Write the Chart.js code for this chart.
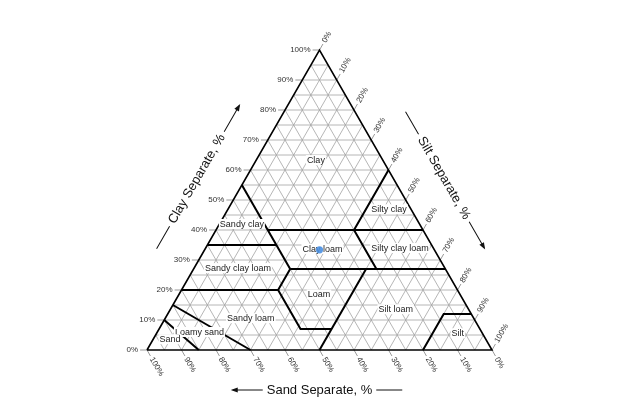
<!DOCTYPE html>
<html>
<head>
<meta charset="utf-8">
<script src="https://cdn.jsdelivr.net/npm/chart.js@4.4.0/dist/chart.umd.min.js"></script>
<style>
  html, body { margin: 0; padding: 0; background: #fff; }
  #wrap { width: 640px; height: 400px; position: relative; }
</style>
</head>
<body>
<div id="wrap"><canvas id="soil"></canvas></div>
<script>
// tick labels on each side, and spacing of the light grid (percent)
var tickValues = [0, 10, 20, 30, 40, 50, 60, 70, 80, 90, 100];
var gridValues = [5, 10, 15, 20, 25, 30, 35, 40, 45, 50, 55, 60, 65, 70, 75, 80, 85, 90, 95];

// USDA texture class boundaries, each polyline as [clay, silt] pairs (sand = rest)
var boundaries = [
  [[55, 0], [27, 28]],            // sand 45 %
  [[40, 15], [40, 60]],           // clay 40 %
  [[60, 40], [40, 40], [27, 53]], // silt 40 % / sand 20 %
  [[35, 0], [35, 20]],            // clay 35 %
  [[27, 28], [27, 73]],           // clay 27 %
  [[27, 28], [20, 28], [20, 0]],  // silt 28 % / clay 20 %
  [[20, 28], [7, 41], [7, 50]],   // sand 52 % / clay 7 %
  [[27, 50], [0, 50]],            // silt 50 %
  [[15, 0], [0, 30]],             // loamy sand
  [[10, 0], [0, 15]],             // sand
  [[0, 80], [12, 80], [12, 88]]   // silt
];

// class names and where their label sits
var classNames = ['Clay', 'Silty clay', 'Sandy clay', 'Clay loam', 'Silty clay loam',
  'Sandy clay loam', 'Loam', 'Silt loam', 'Sandy loam', 'Loamy sand', 'Sand', 'Silt'];
var classClay = [63.3, 46.9, 42, 33.7, 34, 27.3, 18.5, 13.6, 10.6, 6, 3.6, 5.6];
var classSilt = [17.3, 46.7, 6.5, 34.0, 56.3, 12.7, 40.6, 65.3, 24.8, 12.2, 4.9, 87.3];

// the plotted sample
var sampleClay = [33.4];
var sampleSilt = [33.3];

var FONT = '"Liberation Sans", Arial, sans-serif';
var TICK_LEN = 2;

// ternary (clay, silt) -> plot units
function pt(clay, silt) {
  return { x: silt + clay / 2, y: clay };
}

function lineSet(points, color, width, order) {
  return {
    data: points,
    showLine: true,
    borderColor: color,
    borderWidth: width,
    pointRadius: 0,
    clip: false,
    order: order
  };
}

var datasets = [];

datasets.push({
  label: 'sample',
  data: sampleClay.map(function (c, i) { return pt(c, sampleSilt[i]); }),
  pointRadius: 3.6,
  pointBackgroundColor: 'rgba(74,144,226,0.9)',
  pointBorderWidth: 0,
  clip: false,
  order: 0
});

boundaries.forEach(function (b) {
  datasets.push(lineSet(b.map(function (p) { return pt(p[0], p[1]); }), '#000', 2, 1));
});

datasets.push(lineSet([pt(0, 0), pt(100, 0), pt(0, 100), pt(0, 0)], '#000', 1.6, 2));

gridValues.forEach(function (k) {
  datasets.push(lineSet([pt(k, 0), pt(k, 100 - k)], '#a3a3a3', 0.8, 3));
  datasets.push(lineSet([pt(0, k), pt(100 - k, k)], '#a3a3a3', 0.8, 3));
  datasets.push(lineSet([pt(0, 100 - k), pt(100 - k, 0)], '#a3a3a3', 0.8, 3));
});

tickValues.forEach(function (k) {
  datasets.push(lineSet([pt(k, 0), pt(k, -TICK_LEN)], '#999', 1, 3));
  datasets.push(lineSet([pt(100 - k, k), pt(100 - k + TICK_LEN, k)], '#999', 1, 3));
  datasets.push(lineSet([pt(0, 100 - k), pt(-TICK_LEN, 100 - k + TICK_LEN)], '#999', 1, 3));
});

function toPx(chart, p) {
  return { x: chart.scales.x.getPixelForValue(p.x), y: chart.scales.y.getPixelForValue(p.y) };
}

function drawClassLabels(chart) {
  var ctx = chart.ctx;
  ctx.save();
  ctx.font = '9px ' + FONT;
  ctx.textAlign = 'center';
  ctx.textBaseline = 'middle';
  classNames.forEach(function (name, i) {
    var p = toPx(chart, pt(classClay[i], classSilt[i]));
    var w = ctx.measureText(name).width;
    ctx.fillStyle = '#fff';
    ctx.fillRect(p.x - w / 2 - 1, p.y - 5, w + 2, 10);
    ctx.fillStyle = '#222';
    ctx.fillText(name, p.x, p.y + 0.5);
  });
  ctx.restore();
}

function arrowHead(ctx, x, y, dir) {
  ctx.beginPath();
  ctx.moveTo(x, y);
  ctx.lineTo(x - dir * 7, y - 2.6);
  ctx.lineTo(x - dir * 7, y + 2.6);
  ctx.closePath();
  ctx.fill();
}

// title with a plain line on one side and an arrow on the other
function drawTitle(ctx, text, cx, cy, angle, arrowAfter) {
  ctx.save();
  ctx.translate(cx, cy);
  ctx.rotate(angle);
  ctx.font = '13px ' + FONT;
  ctx.textAlign = 'center';
  ctx.textBaseline = 'middle';
  ctx.fillStyle = '#111';
  ctx.strokeStyle = '#111';
  ctx.lineWidth = 1;
  var w = ctx.measureText(text).width;
  ctx.fillText(text, 0, 0);
  var a = w / 2 + 4;
  ctx.beginPath();
  if (arrowAfter) {
    ctx.moveTo(-a - 26, 0); ctx.lineTo(-a, 0);
    ctx.moveTo(a, 0); ctx.lineTo(a + 30, 0);
    ctx.stroke();
    arrowHead(ctx, a + 32, 0, 1);
  } else {
    ctx.moveTo(-a, 0); ctx.lineTo(-a - 30, 0);
    ctx.moveTo(a, 0); ctx.lineTo(a + 26, 0);
    ctx.stroke();
    arrowHead(ctx, -a - 32, 0, -1);
  }
  ctx.restore();
}

function drawAxisText(chart) {
  var ctx = chart.ctx;
  ctx.save();
  ctx.font = '8px ' + FONT;
  ctx.fillStyle = '#333';
  ctx.textBaseline = 'middle';

  tickValues.forEach(function (k) {
    // clay, left side
    var p = toPx(chart, pt(k, -TICK_LEN));
    ctx.textAlign = 'right';
    ctx.fillText(k + '%', p.x - 2, p.y);

    // silt, right side
    p = toPx(chart, pt(100 - k + TICK_LEN + 0.6, k));
    ctx.save();
    ctx.translate(p.x, p.y);
    ctx.rotate(-Math.PI / 3);
    ctx.textAlign = 'left';
    ctx.fillText(k + '%', 0, 0);
    ctx.restore();

    // sand, bottom
    p = toPx(chart, pt(-TICK_LEN - 0.6, 100 - k + TICK_LEN + 0.6));
    ctx.save();
    ctx.translate(p.x, p.y);
    ctx.rotate(Math.PI / 3);
    ctx.textAlign = 'left';
    ctx.fillText(k + '%', 0, 0);
    ctx.restore();
  });
  ctx.restore();

  var left = toPx(chart, pt(0, 0));
  var top = toPx(chart, pt(100, 0));
  var right = toPx(chart, pt(0, 100));

  var mx = (left.x + top.x) / 2, my = (left.y + top.y) / 2;
  drawTitle(ctx, 'Clay Separate, %', mx - 0.866 * 42, my - 0.5 * 42, -Math.PI / 3, true);

  mx = (top.x + right.x) / 2; my = (top.y + right.y) / 2;
  drawTitle(ctx, 'Silt Separate, %', mx + 0.866 * 44, my - 0.5 * 44, Math.PI / 3, true);

  mx = (left.x + right.x) / 2;
  drawTitle(ctx, 'Sand Separate, %', mx, left.y + 40, 0, false);
}

var textPlugin = {
  id: 'ternaryText',
  beforeDatasetDraw: function (chart, args) {
    if (chart.data.datasets[args.index].label === 'sample') drawClassLabels(chart);
  },
  afterDraw: function (chart) {
    drawAxisText(chart);
  }
};

new Chart(document.getElementById('soil'), {
  type: 'scatter',
  data: { datasets: datasets },
  options: {
    responsive: true,
    maintainAspectRatio: false,
    animation: false,
    events: [],
    layout: { padding: { left: 147, right: 148, top: 50, bottom: 50 } },
    scales: {
      x: { type: 'linear', min: 0, max: 100, display: false },
      y: { type: 'linear', min: 0, max: 100, display: false }
    },
    plugins: {
      legend: { display: false },
      tooltip: { enabled: false }
    }
  },
  plugins: [textPlugin]
});
</script>
</body>
</html>
